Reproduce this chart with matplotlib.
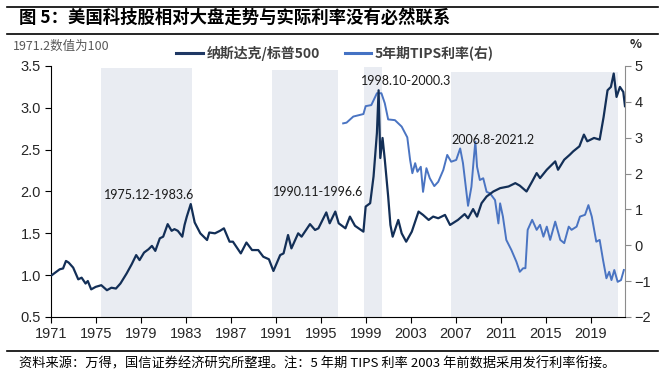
import numpy as np
import matplotlib
matplotlib.use("Agg")
import matplotlib.pyplot as plt
from matplotlib.lines import Line2D

# 纳斯达克/标普500 (1971.2 = 1)
ndx_year = [1971.1, 1971.5, 1971.8, 1972.1, 1972.36, 1972.6, 1973.0, 1973.45, 1973.75, 1974.1,
            1974.3, 1974.6, 1975.0, 1975.5, 1976.0, 1976.4, 1976.8, 1977.2, 1977.75, 1978.2,
            1978.6, 1978.9, 1979.3, 1979.7, 1980.0, 1980.3, 1980.7, 1981.0, 1981.4, 1981.75,
            1982.0, 1982.3, 1982.7, 1982.9, 1983.1, 1983.45, 1983.8, 1984.3, 1984.9, 1985.1,
            1985.6, 1986.05, 1986.4, 1986.9, 1987.2, 1987.9, 1988.4, 1988.9, 1989.45, 1989.9,
            1990.4, 1990.8, 1991.4, 1991.7, 1992.1, 1992.4, 1993.0, 1993.3, 1994.05, 1994.5,
            1994.8, 1995.5, 1995.8, 1996.3, 1996.6, 1997.2, 1997.6, 1998.05, 1998.8, 1999.0,
            1999.4, 1999.7, 2000.0, 2000.15, 2000.3, 2000.5, 2000.7, 2001.0, 2001.2, 2001.4,
            2001.6, 2001.9, 2002.2, 2002.6, 2003.1, 2003.7, 2004.1, 2004.6, 2005.0, 2005.45,
            2006.05, 2006.5, 2007.2, 2007.8, 2008.1, 2008.55, 2008.9, 2009.3, 2009.75, 2010.35,
            2010.95, 2011.7, 2012.3, 2012.7, 2013.3, 2013.8, 2014.2, 2014.5, 2015.1, 2015.85,
            2016.1, 2016.65, 2017.15, 2017.45, 2018.0, 2018.4, 2018.7, 2019.3, 2019.8, 2020.15,
            2020.5, 2020.8, 2021.05, 2021.3, 2021.6, 2021.9, 2022.05]
ndx_ratio = [1.00, 1.04, 1.07, 1.08, 1.17, 1.15, 1.09, 0.95, 0.97, 0.90,
             0.93, 0.83, 0.86, 0.88, 0.82, 0.85, 0.84, 0.90, 1.02, 1.13,
             1.24, 1.18, 1.27, 1.31, 1.35, 1.29, 1.44, 1.46, 1.61, 1.53,
             1.55, 1.53, 1.46, 1.60, 1.70, 1.85, 1.63, 1.50, 1.42, 1.51,
             1.50, 1.53, 1.56, 1.40, 1.40, 1.26, 1.39, 1.30, 1.30, 1.22,
             1.19, 1.05, 1.24, 1.26, 1.48, 1.32, 1.50, 1.46, 1.61, 1.54,
             1.56, 1.75, 1.62, 1.76, 1.62, 1.56, 1.70, 1.59, 1.52, 1.82,
             1.86, 2.18, 2.70, 3.21, 2.40, 2.64, 2.38, 1.94, 1.60, 1.46,
             1.54, 1.66, 1.50, 1.40, 1.52, 1.76, 1.72, 1.66, 1.70, 1.68,
             1.72, 1.60, 1.66, 1.73, 1.68, 1.79, 1.70, 1.86, 1.94, 2.00,
             2.04, 2.06, 2.10, 2.07, 2.00, 2.12, 2.22, 2.16, 2.26, 2.36,
             2.26, 2.38, 2.44, 2.48, 2.54, 2.68, 2.60, 2.64, 2.62, 2.89,
             3.21, 3.25, 3.41, 3.13, 3.25, 3.19, 3.02]

# 5年期TIPS利率 (%)
tips_year = [1997.0, 1997.3, 1997.9, 1998.8, 1999.0, 1999.5, 2000.0, 2000.4, 2000.7, 2001.0,
             2001.6, 2002.2, 2002.7, 2002.95, 2003.15, 2003.4, 2003.6, 2003.9, 2004.1, 2004.4,
             2004.7, 2005.1, 2005.45, 2005.9, 2006.25, 2006.6, 2007.05, 2007.4, 2007.65, 2008.1,
             2008.4, 2008.6, 2008.75, 2008.9, 2009.15, 2009.45, 2009.75, 2010.05, 2010.5, 2010.8,
             2010.95, 2011.2, 2011.5, 2011.95, 2012.4, 2012.7, 2013.0, 2013.2, 2013.4, 2013.8,
             2014.2, 2014.5, 2014.8, 2015.1, 2015.4, 2015.85, 2016.3, 2016.65, 2017.05, 2017.3,
             2017.75, 2018.05, 2018.5, 2018.8, 2019.1, 2019.5, 2019.8, 2020.1, 2020.4, 2020.65,
             2020.85, 2021.1, 2021.4, 2021.7, 2021.95]
tips_rate = [3.40, 3.42, 3.59, 3.66, 3.88, 3.91, 4.24, 4.24, 3.96, 3.51,
             3.49, 3.31, 3.01, 2.38, 2.01, 2.29, 2.05, 2.19, 1.49, 2.15,
             1.87, 1.65, 1.77, 2.10, 2.52, 2.33, 2.38, 2.70, 2.29, 1.10,
             1.63, 2.38, 2.89, 2.19, 1.82, 1.87, 1.49, 1.45, 1.26, 0.61,
             1.17, 0.80, 0.15, -0.13, -0.46, -0.74, -0.64, -0.64, 0.43, 0.71,
             0.43, 0.57, 0.24, 0.52, 0.15, 0.66, 0.15, 0.06, 0.52, 0.43,
             0.52, 0.80, 0.85, 1.12, 0.80, 0.10, 0.15, -0.41, -0.92, -0.74,
             -0.97, -0.69, -1.02, -0.97, -0.69]

# 阴影区间
span_labels = ["1975.12-1983.6", "1990.11-1996.6", "1998.10-2000.3", "2006.8-2021.2"]
span_start = [1975.47, 1990.67, 1998.85, 2006.6]
span_end = [1983.58, 1996.5, 2000.45, 2021.4]

year_ticks = list(range(1971, 2020, 4))

cjk = ["Noto Sans CJK SC", "DejaVu Sans"]
num_font = ["Liberation Sans Narrow", "Liberation Sans", "DejaVu Sans"]
navy = "#132f57"
blue = "#4a74c2"
shade = "#e9ecf2"

fig = plt.figure(figsize=(6.66, 3.78), dpi=100)
ax = fig.add_axes([0.0761, 0.1614, 0.8623, 0.664])
ax2 = ax.twinx()

# 阴影和TIPS画在下层的右轴上，纳指比值画在上层
span_top = [0.992, 0.984, 0.996, 0.976]
for s, e, t in zip(span_start, span_end, span_top):
    ax2.axvspan(s, e, ymin=0, ymax=t, color=shade, lw=0, zorder=0)

ax2.plot(tips_year, tips_rate, color=blue, lw=1.4, zorder=2)
ax.plot(ndx_year, ndx_ratio, color=navy, lw=1.6, zorder=3)
ax.set_zorder(ax2.get_zorder() + 1)
ax.patch.set_visible(False)

ax.set_xlim(1971, 2022.05)
ax.set_ylim(0.5, 3.5)
ax2.set_ylim(-2, 5)
ax.set_xticks(year_ticks)
ax.set_xticklabels([str(y) for y in year_ticks])
ax.set_yticks(np.arange(0.5, 3.51, 0.5))
ax.set_yticklabels([f"{v:.1f}" for v in np.arange(0.5, 3.51, 0.5)])
ax2.set_yticks(range(-2, 6))

for a in (ax, ax2):
    a.spines["top"].set_visible(False)
ax.spines["right"].set_visible(False)
ax2.spines["left"].set_visible(False)
ax2.spines["bottom"].set_visible(False)
ax2.spines["right"].set_color("#8c8c8c")
ax.spines["left"].set_color("black")
ax.spines["bottom"].set_color("black")

ax.tick_params(axis="both", direction="out", length=4, width=0.8, colors="black",
               labelcolor="#262626", pad=3)
ax2.tick_params(axis="y", direction="out", length=4, width=0.8, colors="#8c8c8c",
                labelcolor="#262626", pad=3)
for lab in ax.get_xticklabels() + ax.get_yticklabels() + ax2.get_yticklabels():
    lab.set_family(num_font)
    lab.set_fontsize(10.5)

# 区间标注
label_pos = [(1975.75, 1.96), (1990.75, 1.99), (1998.55, 3.32), (2006.6, 2.61)]
for txt, (lx, ly) in zip(span_labels, label_pos):
    ax.text(lx, ly, txt, fontsize=9, family=["Lato", "DejaVu Sans"], color="#1a1a1a",
            va="center", ha="left", zorder=5)

# 图例
h1 = Line2D([], [], color="#1f3864", lw=2.2)
h2 = Line2D([], [], color="#4472c4", lw=2.2)
fig.legend([h1, h2], ["纳斯达克/标普500", "5年期TIPS利率(右)"], loc="center",
           bbox_to_anchor=(0.503, 0.86), ncol=2, frameon=False, handlelength=1.9,
           handletextpad=0.25, columnspacing=1.8,
           prop={"family": cjk, "weight": "bold", "size": 10})
for t in fig.legends[0].get_texts():
    t.set_color("#404040")

fig.text(0.019, 0.876, "1971.2数值为100", fontsize=9, family=cjk, color="#595959", va="center")
fig.text(0.955, 0.881, "%", fontsize=9, family=cjk, color="#262626", va="center", ha="center",
         weight="bold")

# 标题与来源
fig.text(0.028, 0.952, "图 5：美国科技股相对大盘走势与实际利率没有必然联系", fontsize=12.5,
         family=cjk, weight="bold", color="black", va="center")
fig.text(0.028, 0.037, "资料来源：万得，国信证券经济研究所整理。注：5 年期 TIPS 利率 2003 年前数据采用发行利率衔接。",
         fontsize=9.5, family=cjk, color="black", va="center")
for yy in (0.9815, 0.910, 0.0714):
    fig.add_artist(Line2D([0.0105, 0.988], [yy, yy], transform=fig.transFigure,
                          color="black", lw=1.2))

fig.savefig("out.png", dpi=100)
